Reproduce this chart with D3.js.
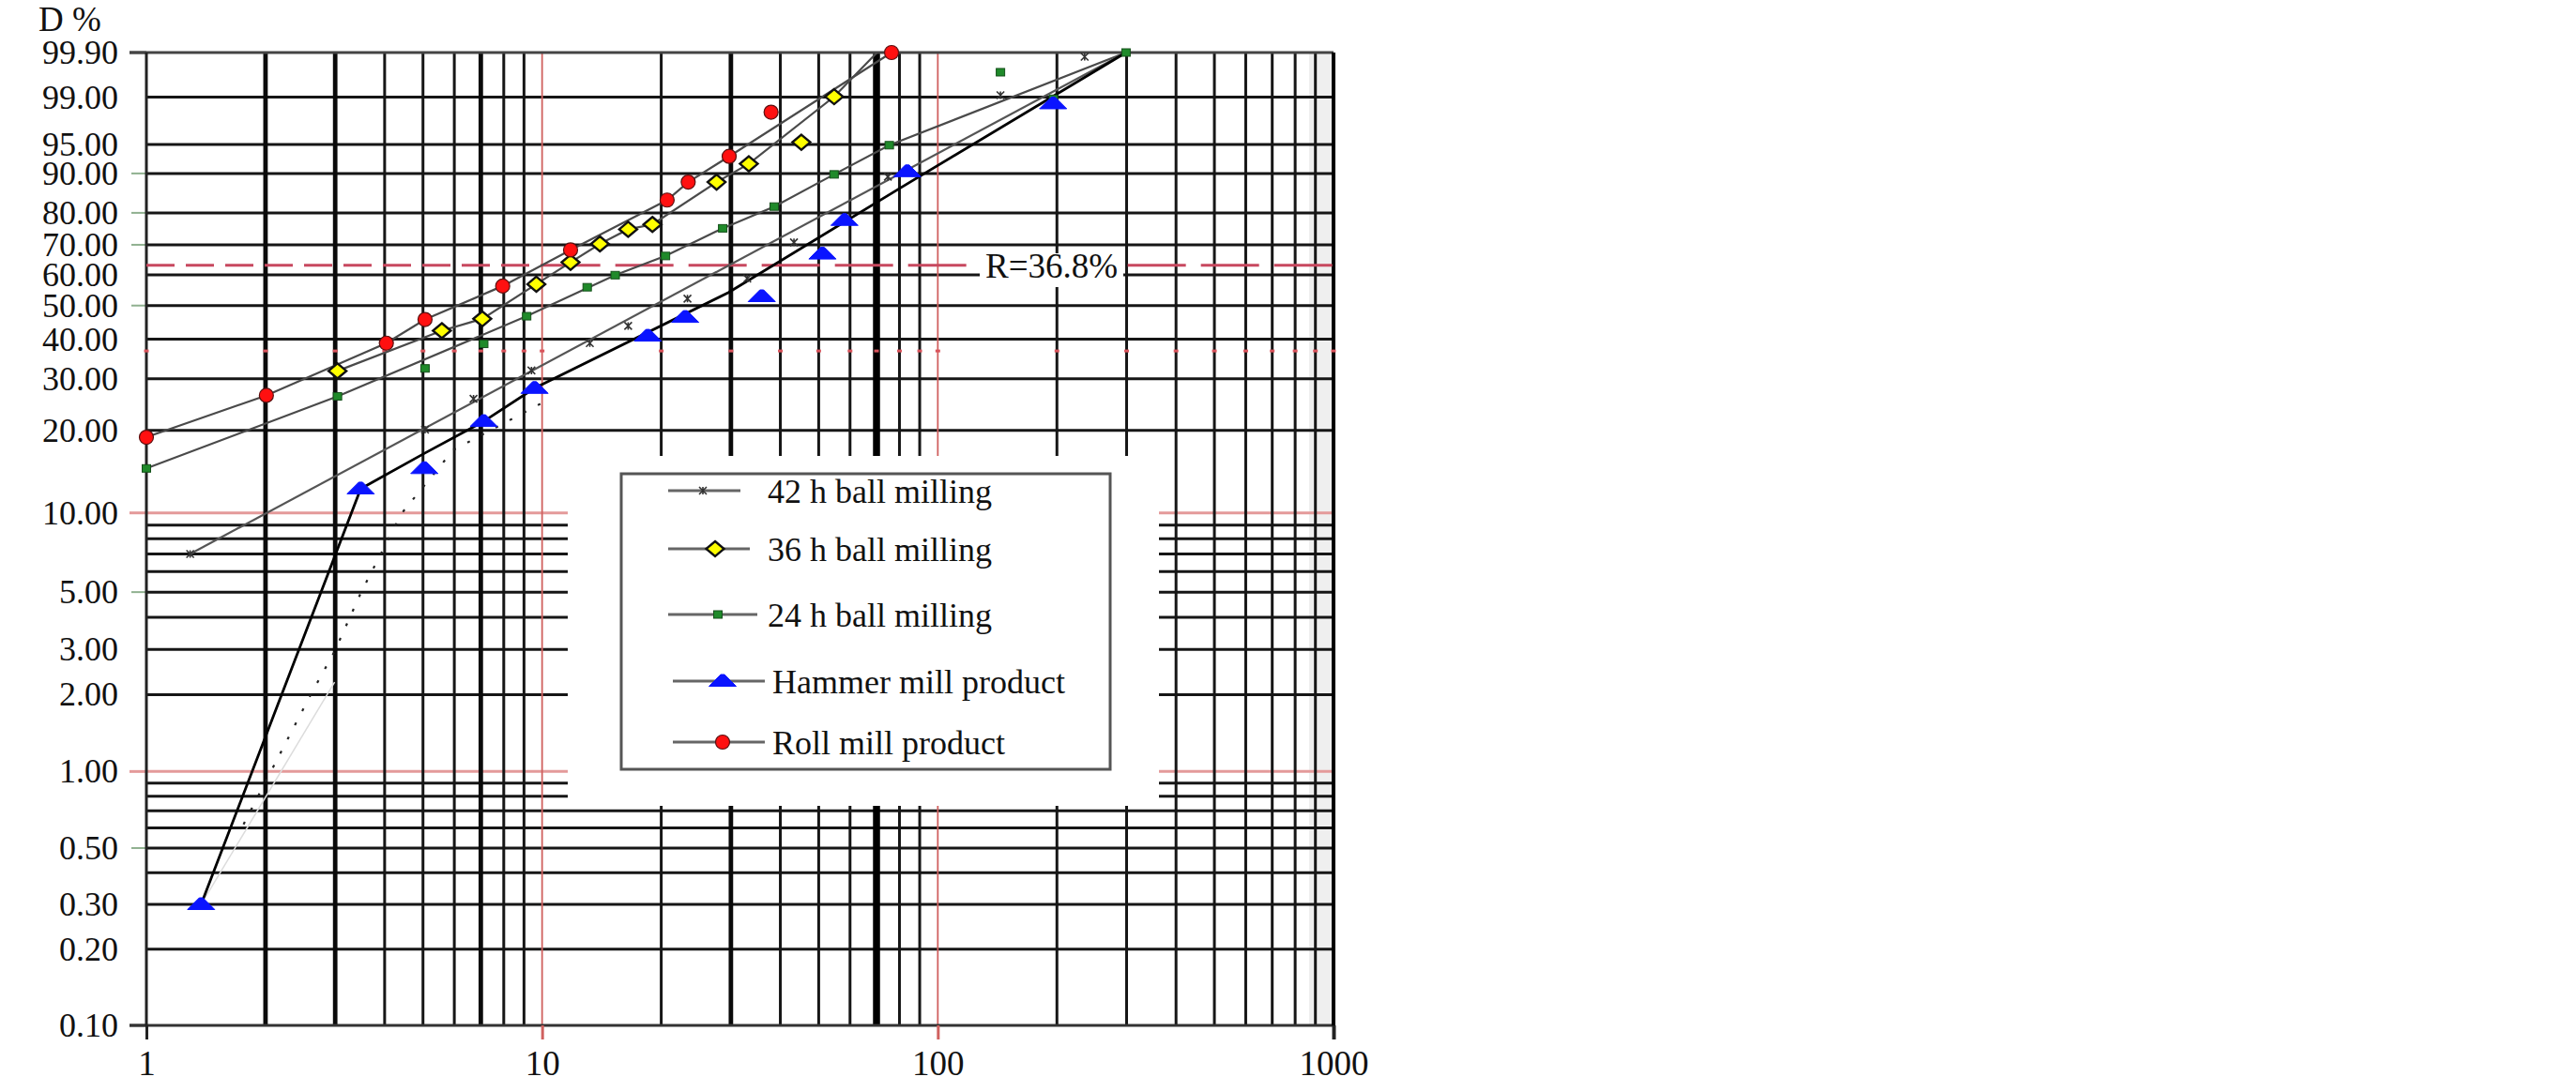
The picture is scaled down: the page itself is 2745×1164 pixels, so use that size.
<!DOCTYPE html>
<html>
<head>
<meta charset="utf-8">
<script src="https://cdn.jsdelivr.net/npm/d3@7"></script>
<style>
body { margin: 0; background: #fff; }
text { font-family: "Liberation Serif", "Times New Roman", serif; fill: #111; }
</style>
</head>
<body>
<svg id="chart" width="2745" height="1164"></svg>
<script>
// axis ticks
var xTickValues = [1, 10, 100, 1000];
var yTickValues = [99.9, 99, 95, 90, 80, 70, 60, 50, 40, 30, 20, 10, 5, 3, 2, 1, 0.5, 0.3, 0.2, 0.1];

// grid of the Rosin-Rammler paper
var xGridThin  = [4, 5, 6, 8, 9, 20, 40, 50, 60, 80, 90, 200, 300, 400, 500, 600, 700, 800, 900];
var xGridThick = [2, 3, 7, 30];
var xGridHeavy = [70];
var xGridRed   = [10, 100];
var yGrid      = [99, 95, 90, 80, 70, 60, 50, 40, 30, 20, 9, 8, 7, 6, 5, 4, 3, 2, 0.9, 0.8, 0.7, 0.6, 0.5, 0.4, 0.3, 0.2];
var yGridRed   = [10, 1];
var yStubGray  = [99.9, 0.1];
var yStubGreen = [90, 80, 70, 50, 5, 0.5];
var rLine      = 63.2;   // R = 36.8 %
var dLine      = 36.8;   // dotted

// series: [size, D %]
var h42 = [[1.29, 7.0], [5.06, 20.1], [6.71, 25.7], [9.40, 31.9], [13.2, 38.9], [16.5, 43.8], [23.3, 52.2],
           [33.0, 58.8], [43.3, 70.8], [74.8, 89.3], [144, 99.08], [235, 99.87]];
var h42Line = [[1.29, 7.0], [299, 99.9]];

var h36 = [[3.04, 31.8], [5.58, 42.4], [7.06, 45.9], [9.67, 56.9], [11.8, 64.2], [14.0, 70.3], [16.5, 75.0],
           [19.0, 76.5], [27.6, 88.1], [33.3, 91.9], [45.2, 95.3], [54.7, 99.02]];
var h36Line = [[3.04, 31.8], [5.58, 42.4], [7.06, 45.9], [9.67, 56.9], [11.8, 64.2], [14.0, 70.3], [16.5, 75.0],
               [19.0, 76.5], [27.6, 88.1], [33.3, 91.9], [54.7, 99.02], [70.2, 99.9]];

var h24 = [[1.0, 14.6], [3.04, 26.2], [5.06, 32.4], [7.12, 38.7], [9.14, 46.7], [13.0, 55.9], [15.3, 59.9],
           [20.5, 66.3], [28.6, 75.3], [38.6, 81.8], [54.7, 89.8], [75.4, 94.9], [144, 99.69], [196, 98.93], [299, 99.9]];
var h24Line = [[1.0, 14.6], [3.04, 26.2], [9.14, 46.7], [15.3, 59.9], [20.5, 66.3], [28.6, 75.3], [38.6, 81.8],
               [54.7, 89.8], [75.4, 94.9], [299, 99.9]];

var hammer = [[1.375, 0.3], [3.48, 12.3], [5.04, 14.6], [7.12, 21.5], [9.57, 27.9], [18.5, 40.9], [23.0, 46.4],
              [35.9, 52.9], [51.1, 67.0], [58.1, 77.8], [83.7, 90.4], [195.6, 98.7]];
var hammerLine = [[1.375, 0.3], [3.48, 12.3], [5.06, 16.6], [7.12, 21.5], [9.57, 27.9], [29.6, 54.2], [80.4, 86.7], [299, 99.9]];

var roll = [[1.0, 18.9], [2.01, 26.4], [4.04, 38.9], [5.06, 45.7], [7.95, 56.3], [11.8, 68.3], [20.7, 83.6],
            [23.4, 88.1], [29.7, 93.2], [37.9, 98.2], [76.4, 99.9]];
var rollLine = [[1.0, 18.9], [2.01, 26.4], [4.04, 38.9], [5.06, 45.7], [7.95, 56.3], [11.8, 68.3], [20.7, 83.6],
                [23.4, 88.1], [29.7, 93.2], [76.4, 99.9]];

var dottedLine = [[1.76, 0.62], [2.61, 2.02], [2.99, 2.95], [3.49, 5.0], [4.42, 9.98], [5.96, 17.0], [9.95, 24.8]];
var faintLine  = [[1.41, 0.32], [2.99, 2.24]];

var legendLabels = ["42 h ball milling", "36 h ball milling", "24 h ball milling", "Hammer mill product", "Roll mill product"];
var legendKinds  = ["cross", "diamond", "square", "triangle", "circle"];

// layout (plot frame)
var pLeft = 156, pRight = 1421, pTop = 56, pBottom = 1093;
var gap = { x0: 605, x1: 1235, y0: 486, y1: 859 };   // blank area around the legend

var svg = d3.select("#chart");

function rr(d) { return Math.log(-Math.log(1 - d / 100)); }
var x = d3.scaleLog().domain([1, 1000]).range([pLeft, pRight]);
var yT = d3.scaleLinear().domain([rr(99.9), rr(0.1)]).range([pTop, pBottom]);
function yp(d) { return yT(rr(d)); }
function px(d) { return x(d[0]); }
function py(d) { return yp(d[1]); }

var grid = svg.append("g");

// light strip along right edge
grid.append("rect").attr("x", 1395).attr("y", pTop).attr("width", pRight - 1395).attr("height", pBottom - pTop)
    .attr("fill", "#efefef");

function vSegs(v) {
    var p = x(v);
    return (p > gap.x0 && p < gap.x1) ? [[pTop, gap.y0], [gap.y1, pBottom]] : [[pTop, pBottom]];
}
function hSegs(d) {
    var p = yp(d);
    return (p > gap.y0 && p < gap.y1) ? [[pLeft, gap.x0], [gap.x1, pRight]] : [[pLeft, pRight]];
}
function drawH(values, stroke, width) {
    values.forEach(function(d) {
        hSegs(d).forEach(function(s) {
            grid.append("line")
                .attr("x1", s[0]).attr("x2", s[1])
                .attr("y1", yp(d)).attr("y2", yp(d))
                .attr("stroke", stroke).attr("stroke-width", width);
        });
    });
}
function drawV(values, stroke, width) {
    values.forEach(function(v) {
        vSegs(v).forEach(function(s) {
            grid.append("line")
                .attr("x1", x(v)).attr("x2", x(v))
                .attr("y1", s[0]).attr("y2", s[1])
                .attr("stroke", stroke).attr("stroke-width", width);
        });
    });
}

drawH(yGrid, "#161616", 3);
drawH(yGridRed, "#e49a9a", 3);
drawV(xGridThin, "#161616", 3);
drawV(xGridThick, "#0a0a0a", 4.8);
drawV(xGridHeavy, "#000", 7.5);
drawV(xGridRed, "#d0615f", 1.8);

// short stubs left of the frame
yStubGray.forEach(function(d) {
    grid.append("line").attr("x1", 138).attr("x2", pLeft).attr("y1", yp(d)).attr("y2", yp(d))
        .attr("stroke", "#555").attr("stroke-width", 3);
});
yStubGreen.forEach(function(d) {
    grid.append("line").attr("x1", 140).attr("x2", pLeft).attr("y1", yp(d)).attr("y2", yp(d))
        .attr("stroke", "#8fb08f").attr("stroke-width", 2);
});
yGridRed.forEach(function(d) {
    grid.append("line").attr("x1", 138).attr("x2", pLeft).attr("y1", yp(d)).attr("y2", yp(d))
        .attr("stroke", "#e49a9a").attr("stroke-width", 3);
});

// frame
grid.append("line").attr("x1", 138).attr("x2", pRight).attr("y1", pTop).attr("y2", pTop)
    .attr("stroke", "#444").attr("stroke-width", 3);
grid.append("line").attr("x1", 138).attr("x2", pRight).attr("y1", pBottom).attr("y2", pBottom)
    .attr("stroke", "#333").attr("stroke-width", 3);
grid.append("line").attr("x1", pLeft).attr("x2", pLeft).attr("y1", pTop).attr("y2", pBottom)
    .attr("stroke", "#222").attr("stroke-width", 3);
grid.append("line").attr("x1", pRight).attr("x2", pRight).attr("y1", pTop).attr("y2", pBottom)
    .attr("stroke", "#000").attr("stroke-width", 4);

// dotted red line (marks on every vertical grid line)
var allVert = [1].concat(xGridThin, xGridThick, xGridHeavy, xGridRed, [1000]);
grid.selectAll("rect.dot").data(allVert).enter().append("rect")
    .attr("class", "dot")
    .attr("x", function(v) { return x(v) - 2.5; })
    .attr("y", yp(dLine) - 1.5)
    .attr("width", 5).attr("height", 3)
    .attr("fill", "#d9535b");

// dashed R = 36.8 % line
grid.append("line").attr("x1", x(1)).attr("x2", x(10)).attr("y1", yp(rLine)).attr("y2", yp(rLine))
    .attr("stroke", "#c8485f").attr("stroke-width", 3).attr("stroke-dasharray", "30,12");
grid.append("line").attr("x1", x(10)).attr("x2", pRight).attr("y1", yp(rLine)).attr("y2", yp(rLine))
    .attr("stroke", "#c8485f").attr("stroke-width", 3).attr("stroke-dasharray", "62,16");

grid.append("rect").attr("x", 1044).attr("y", 270).attr("width", 153).attr("height", 36).attr("fill", "#fff");
svg.append("text").attr("x", 1050).attr("y", yp(rLine)).attr("dy", "0.35em")
    .style("font-size", "37px").text("R=36.8%");

// axes
var yAxis = svg.append("g")
    .attr("transform", "translate(" + pLeft + ",0)")
    .call(d3.axisLeft(yT)
        .tickValues(yTickValues.map(rr))
        .tickFormat(function(t) { return (100 * (1 - Math.exp(-Math.exp(t)))).toFixed(2); })
        .tickSize(0)
        .tickPadding(30));
yAxis.select(".domain").remove();
yAxis.selectAll("text").style("font-size", "36px").attr("fill", "#111");

var xAxis = svg.append("g")
    .attr("transform", "translate(0," + pBottom + ")")
    .call(d3.axisBottom(x)
        .tickValues(xTickValues)
        .tickFormat(d3.format("d"))
        .tickSize(15)
        .tickPadding(12));
xAxis.select(".domain").remove();
xAxis.selectAll("text").style("font-size", "37px").attr("fill", "#111");
xAxis.selectAll(".tick line")
    .attr("stroke", function(v) { return (v === 10 || v === 100) ? "#d0615f" : "#222"; })
    .attr("stroke-width", function(v) { return v === 1000 ? 4 : 3; });

svg.append("text").attr("x", 41).attr("y", 33).style("font-size", "37px").text("D %");

// series lines
var line = d3.line().x(px).y(py);
var plot = svg.append("g");

plot.append("path").datum(faintLine).attr("d", line).attr("fill", "none")
    .attr("stroke", "#dcdcdc").attr("stroke-width", 1.5);
plot.append("path").datum(dottedLine).attr("d", line).attr("fill", "none")
    .attr("stroke", "#222").attr("stroke-width", 2.2).attr("stroke-dasharray", "3,14");

[[h24Line, "#4a4a4a", 2.2], [h42Line, "#555", 2.2], [rollLine, "#4a4a4a", 2.2], [h36Line, "#4a4a4a", 2.2], [hammerLine, "#000", 2.8]]
    .forEach(function(s) {
        plot.append("path").datum(s[0]).attr("d", line).attr("fill", "none")
            .attr("stroke", s[1]).attr("stroke-width", s[2]);
    });

// markers
function marker(g, kind) {
    if (kind === "cross") {
        g.append("path").attr("d", "M-4,-4L4,4M-4,4L4,-4M0,-4L0,4")
            .attr("stroke", "#333").attr("stroke-width", 1.6).attr("fill", "none");
    } else if (kind === "diamond") {
        g.append("path").attr("d", "M0,-8L9.5,0L0,8L-9.5,0Z")
            .attr("fill", "#ffff00").attr("stroke", "#111").attr("stroke-width", 2.4);
    } else if (kind === "square") {
        g.append("rect").attr("x", -4.5).attr("y", -4).attr("width", 9).attr("height", 8)
            .attr("fill", "#1f8a2a").attr("stroke", "#14501a").attr("stroke-width", 1);
    } else if (kind === "triangle") {
        g.append("path").attr("d", "M-2,-7L2,-7L14.5,5.5L-14.5,5.5Z")
            .attr("fill", "#0a14ff").attr("stroke", "#0a14ff").attr("stroke-width", 1).attr("stroke-linejoin", "round");
    } else {
        g.append("circle").attr("r", 7.5)
            .attr("fill", "#ff1010").attr("stroke", "#5a1010").attr("stroke-width", 1.2);
    }
}

[[h42, "cross"], [h24, "square"], [hammer, "triangle"], [h36, "diamond"], [roll, "circle"]].forEach(function(s) {
    plot.selectAll(null).data(s[0]).enter().append("g")
        .attr("transform", function(d) { return "translate(" + px(d) + "," + py(d) + ")"; })
        .each(function() { marker(d3.select(this), s[1]); });
});

// legend
var legend = svg.append("g");
legend.append("rect").attr("x", 662).attr("y", 505).attr("width", 521).attr("height", 315)
    .attr("fill", "#fff").attr("stroke", "#555").attr("stroke-width", 3);
var legendY = [523, 585, 655, 726, 791];
legendLabels.forEach(function(label, i) {
    var g = legend.append("g").attr("transform", "translate(0," + legendY[i] + ")");
    var x0 = i < 3 ? 712 : 717;
    var x1 = i === 0 ? 789 : (i === 1 ? 799 : (i === 2 ? 807 : 815));
    g.append("line").attr("x1", x0).attr("x2", x1).attr("y1", 0).attr("y2", 0)
        .attr("stroke", "#666").attr("stroke-width", 3);
    var mx = [749, 762, 765, 770, 770][i];
    marker(g.append("g").attr("transform", "translate(" + mx + ",0)"), legendKinds[i]);
    g.append("text").attr("x", i < 3 ? 818 : 823).attr("y", 0).attr("dy", "0.35em")
        .style("font-size", "36px").text(label);
});
</script>
</body>
</html>
